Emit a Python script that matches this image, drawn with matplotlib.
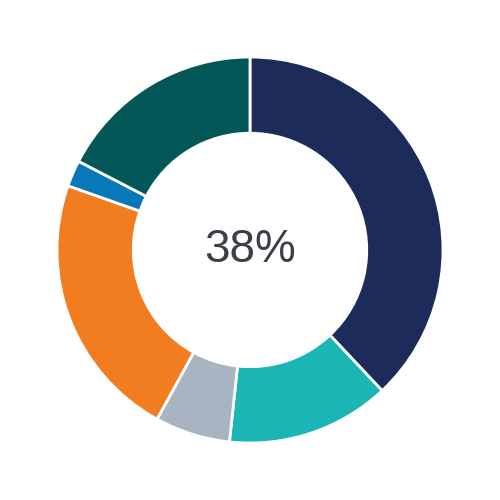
import matplotlib.pyplot as plt

# slice shares, clockwise from 12 o'clock
labels = ["Navy", "Teal", "Gray", "Orange", "Blue", "Green"]
shares = [38, 13.7, 6.3, 22.4, 2.2, 17.4]
colors = ["#1c2b5a", "#1bb5b5", "#a9b4c2", "#f27d20", "#0878b8", "#035756"]
center_label = "38%"

fig = plt.figure(figsize=(5, 5), dpi=100)
ax = fig.add_axes([0, 0, 1, 1])
ax.pie(
    shares,
    colors=colors,
    startangle=90,
    counterclock=False,
    radius=1.0,
    wedgeprops=dict(width=0.395, edgecolor="white", linewidth=2),
)
ax.text(0, 0, center_label, ha="center", va="center", fontsize=33,
        color="#3b4048", family=["Liberation Sans", "DejaVu Sans"])
lim = 250 / 193
ax.set_xlim(-lim, lim)
ax.set_ylim(-lim, lim)
ax.set_aspect("equal")
ax.axis("off")
fig.savefig("out.png", dpi=100, facecolor="white")
